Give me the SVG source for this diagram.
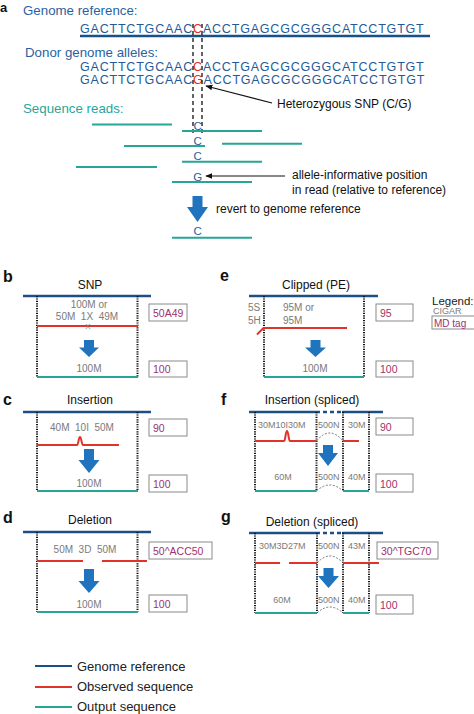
<svg xmlns="http://www.w3.org/2000/svg" width="474" height="714" viewBox="0 0 474 714">
<defs>
<style>
text{font-family:"Liberation Sans",Arial,sans-serif}
.pl{font-size:16px;font-weight:bold;fill:#111}
.ta{font-size:13.3px;fill:#2a62a0}
.tt{font-size:13.3px;fill:#2aa59a}
.seq{font-size:12.5px;fill:#1f5a99;letter-spacing:0.8px}
.red{fill:#dc3228}
.col{font-size:11.5px;fill:#2a5f9c;text-anchor:middle}
.note{font-size:12px;fill:#111}
.ttl{font-size:12px;fill:#111;text-anchor:middle}
.g{font-size:10px;fill:#7a7a7a}
.gs{font-size:9px;fill:#7a7a7a}
.gm{text-anchor:middle}
.md{font-size:10.5px;fill:#a0306e}
.box{fill:#fff;stroke:#8a8a8a;stroke-width:1}
.ref{stroke:#1c4f84;stroke-width:2.6;fill:none}
.refd{stroke:#1c4f84;stroke-width:2.6;stroke-dasharray:4 3;fill:none}
.obs{stroke:#e2332a;stroke-width:2;fill:none}
.out{stroke:#27a596;stroke-width:2;fill:none}
.dot{stroke:#111;stroke-width:2;stroke-dasharray:1.2 1.2;fill:none}
.dash{stroke:#111;stroke-width:1.3;stroke-dasharray:4 3;fill:none}
.arc{stroke:#555;stroke-width:0.8;stroke-dasharray:2 1.6;fill:none}
.barrow{fill:#1f74bd}
.leg{font-size:13px;fill:#222}
.conn{stroke:#111;stroke-width:1.2;fill:none}
</style>
<marker id="ah" viewBox="0 0 10 10" refX="9" refY="5" markerWidth="7" markerHeight="7" orient="auto-start-reverse" markerUnits="userSpaceOnUse">
<path d="M0,1 L10,5 L0,9 Z" fill="#111"/>
</marker>
</defs>
<rect width="474" height="714" fill="#fff"/>

<g id="panel-a">
<text class="pl" x="0" y="12" style="font-size:13px">a</text>
<text class="ta" x="23" y="14.5">Genome reference:</text>
<text class="seq" x="80" y="33">GACTTCTGCAAC<tspan class="red">C</tspan>ACCTGAGCGCGGGCATCCTGTGT</text>
<line class="ref" x1="80" y1="36" x2="430" y2="36"/>
<text class="ta" x="25" y="56.5">Donor genome alleles:</text>
<text class="seq" x="80" y="71">GACTTCTGCAAC<tspan class="red">C</tspan>ACCTGAGCGCGGGCATCCTGTGT</text>
<text class="seq" x="80" y="84">GACTTCTGCAAC<tspan class="red">G</tspan>ACCTGAGCGCGGGCATCCTGTGT</text>
<text class="tt" x="23" y="112.5">Sequence reads:</text>
<line class="dash" x1="193" y1="24" x2="193" y2="133"/>
<line class="dash" x1="202" y1="24" x2="202" y2="133"/>
<line class="out" x1="92" y1="124.5" x2="172" y2="124.5"/>
<line class="out" x1="182" y1="131" x2="262" y2="131"/>
<line class="out" x1="124" y1="146" x2="205" y2="146"/>
<line class="out" x1="222" y1="143.7" x2="302" y2="143.7"/>
<line class="out" x1="182" y1="161.7" x2="262" y2="161.7"/>
<line class="out" x1="76" y1="167" x2="157" y2="167"/>
<line class="out" x1="172" y1="182" x2="252" y2="182"/>
<text class="col" x="197.7" y="130">C</text>
<text class="col" x="197.7" y="145">C</text>
<text class="col" x="197.7" y="160">C</text>
<text class="col red" x="197.7" y="181">G</text>
<text class="note" x="277" y="107.5">Heterozygous SNP (C/G)</text>
<text class="note" x="292" y="178.6">allele-informative position</text>
<text class="note" x="292" y="193.5">in read (relative to reference)</text>
<path class="barrow" d="M192.5,196 H202.5 V207 H208 L197.5,222 L187,207 H192.5 Z"/>
<text class="note" x="216" y="213">revert to genome reference</text>
<text class="col" x="197.7" y="235">C</text>
<line class="out" x1="172" y1="237.7" x2="252" y2="237.7"/>
</g>

<g id="connectors">
<line class="conn" x1="272" y1="103" x2="206" y2="86" marker-end="url(#ah)"/>
<line class="conn" x1="285" y1="176" x2="206" y2="176" marker-end="url(#ah)"/>
</g>

<g id="panel-b">
<text class="pl" x="3" y="282">b</text>
<text class="ttl" x="90" y="289">SNP</text>
<line class="ref" x1="23" y1="296" x2="151" y2="296"/>
<line class="dot" x1="37" y1="296" x2="37" y2="377"/>
<line class="dot" x1="137.5" y1="296" x2="137.5" y2="377"/>
<text class="g gm" x="89" y="307.5">100M or</text>
<text class="g gm" x="87" y="320" xml:space="preserve">50M  1X  49M</text>
<line class="obs" x1="37" y1="326" x2="138" y2="326"/>
<text class="g gm" x="88" y="329" style="font-size:8px">X</text>
<path class="barrow" d="M84,340 H94 V347.5 H99 L89,357 L79,347.5 H84 Z"/>
<text class="g gm" x="89" y="372">100M</text>
<line class="out" x1="37" y1="377" x2="138" y2="377"/>
<rect class="box" x="149" y="304" width="38" height="17"/>
<text class="md" x="153" y="317">50A49</text>
<rect class="box" x="149" y="361" width="38" height="16"/>
<text class="md" x="153" y="372.5">100</text>
</g>

<g id="panel-c">
<text class="pl" x="3" y="405">c</text>
<text class="ttl" x="90" y="404">Insertion</text>
<line class="ref" x1="23" y1="412" x2="151" y2="412"/>
<line class="dot" x1="37" y1="412" x2="37" y2="491"/>
<line class="dot" x1="137.5" y1="412" x2="137.5" y2="491"/>
<text class="g gm" x="82" y="431" xml:space="preserve">40M  10I  50M</text>
<path class="obs" d="M37,445 H77 C78.5,445 78.5,437 80,437 C81.5,437 81.5,445 83,445 H119"/>
<rect class="box" x="149" y="419" width="38" height="17"/>
<text class="md" x="153" y="431.5">90</text>
<path class="barrow" d="M84,449 H94 V460 H99.5 L89,473 L78.5,460 H84 Z"/>
<text class="g gm" x="89" y="487">100M</text>
<line class="out" x1="37" y1="491" x2="138" y2="491"/>
<rect class="box" x="149" y="475" width="38" height="17"/>
<text class="md" x="153" y="487.5">100</text>
</g>

<g id="panel-d">
<text class="pl" x="3" y="523">d</text>
<text class="ttl" x="90" y="524">Deletion</text>
<line class="ref" x1="23" y1="532" x2="151" y2="532"/>
<line class="dot" x1="37" y1="532" x2="37" y2="612"/>
<line class="dot" x1="137.5" y1="532" x2="137.5" y2="612"/>
<text class="g gm" x="85" y="553" xml:space="preserve">50M  3D  50M</text>
<line class="obs" x1="37" y1="561" x2="83" y2="561"/>
<line class="obs" x1="102" y1="561" x2="147" y2="561"/>
<rect class="box" x="149" y="542" width="63" height="17"/>
<text class="md" x="153" y="554.5">50^ACC50</text>
<path class="barrow" d="M84,569 H94 V581 H99.5 L89,593 L78.5,581 H84 Z"/>
<text class="g gm" x="89" y="607.5">100M</text>
<line class="out" x1="37" y1="612" x2="138" y2="612"/>
<rect class="box" x="149" y="595" width="38" height="17"/>
<text class="md" x="153" y="607.5">100</text>
</g>

<g id="panel-e">
<text class="pl" x="220" y="281">e</text>
<text class="ttl" x="316" y="289">Clipped (PE)</text>
<line class="ref" x1="249" y1="296" x2="378" y2="296"/>
<line class="dot" x1="264" y1="296" x2="264" y2="377"/>
<line class="dot" x1="364" y1="296" x2="364" y2="377"/>
<text class="g" x="248" y="311">5S</text>
<text class="g" x="248" y="323.5">5H</text>
<text class="g" x="283" y="311">95M or</text>
<text class="g" x="283" y="323.5">95M</text>
<line class="obs" x1="263" y1="328" x2="347" y2="328"/>
<line class="obs" x1="257" y1="334.5" x2="263.5" y2="328"/>
<path class="barrow" d="M310.5,340 H320.5 V347.5 H326 L315.5,357 L305,347.5 H310.5 Z"/>
<text class="g gm" x="315" y="372">100M</text>
<line class="out" x1="264" y1="377" x2="364" y2="377"/>
<rect class="box" x="376" y="304" width="37" height="17"/>
<text class="md" x="380" y="317">95</text>
<rect class="box" x="376" y="361" width="37" height="16"/>
<text class="md" x="380" y="372.5">100</text>
</g>

<g id="legend-top">
<text x="432" y="304.5" style="font-size:11.5px;fill:#222">Legend:</text>
<text x="433" y="314" style="font-size:9px;fill:#7a7a7a">CIGAR</text>
<rect class="box" x="432" y="316" width="46" height="13"/>
<text class="md" x="434" y="326.5" style="font-size:10px">MD tag</text>
</g>

<g id="panel-f">
<text class="pl" x="221" y="405">f</text>
<text class="ttl" x="312" y="404">Insertion (spliced)</text>
<line class="ref" x1="249" y1="412" x2="316" y2="412"/>
<line class="refd" x1="316" y1="412" x2="342" y2="412"/>
<line class="ref" x1="342" y1="412" x2="383" y2="412"/>
<line class="dot" x1="255" y1="412" x2="255" y2="491"/>
<line class="dot" x1="316.5" y1="412" x2="316.5" y2="491"/>
<line class="dot" x1="343" y1="412" x2="343" y2="491"/>
<line class="dot" x1="369" y1="412" x2="369" y2="491"/>
<text class="gs" x="258" y="428">30M10I30M</text>
<text class="gs" x="318" y="428">500N</text>
<text class="gs" x="348" y="428">30M</text>
<path class="obs" d="M255,441 H284 C285.5,441 285.5,431 287,431 C288.5,431 288.5,441 290,441 H316.5"/>
<path class="arc" d="M316.5,441 Q329.7,425 343,441"/>
<line class="obs" x1="343" y1="441" x2="359" y2="441"/>
<rect class="box" x="376" y="418" width="37" height="17"/>
<text class="md" x="380" y="431">90</text>
<path class="barrow" d="M323,445 H333 V453 H338 L328,466 L318,453 H323 Z"/>
<text class="gs gm" x="283" y="480">60M</text>
<text class="gs" x="318" y="480">500N</text>
<text class="gs" x="348" y="480">40M</text>
<line class="out" x1="255" y1="491" x2="316.5" y2="491"/>
<path class="arc" d="M316.5,491 Q329.7,479 343,491"/>
<line class="out" x1="343" y1="491" x2="369" y2="491"/>
<rect class="box" x="376" y="474" width="37" height="18"/>
<text class="md" x="380" y="487.5">100</text>
</g>

<g id="panel-g">
<text class="pl" x="221" y="522">g</text>
<text class="ttl" x="312" y="526">Deletion (spliced)</text>
<line class="ref" x1="249" y1="533" x2="316" y2="533"/>
<line class="refd" x1="316" y1="533" x2="342" y2="533"/>
<line class="ref" x1="342" y1="533" x2="383" y2="533"/>
<line class="dot" x1="255" y1="533" x2="255" y2="613"/>
<line class="dot" x1="317" y1="533" x2="317" y2="613"/>
<line class="dot" x1="343" y1="533" x2="343" y2="613"/>
<line class="dot" x1="369" y1="533" x2="369" y2="613"/>
<text class="gs" x="259" y="548.5">30M3D27M</text>
<text class="gs" x="318" y="548.5">500N</text>
<text class="gs" x="348" y="548.5">43M</text>
<line class="obs" x1="255" y1="563" x2="280" y2="563"/>
<line class="obs" x1="289" y1="563" x2="317" y2="563"/>
<path class="arc" d="M317,563 Q330,549 343,563"/>
<line class="obs" x1="343" y1="563" x2="379" y2="563"/>
<rect class="box" x="377" y="542" width="61" height="17"/>
<text class="md" x="381" y="555">30^TGC70</text>
<path class="barrow" d="M323.5,568 H333.5 V576 H339 L328.5,588 L318,576 H323.5 Z"/>
<text class="gs gm" x="282" y="603">60M</text>
<text class="gs" x="318" y="603">500N</text>
<text class="gs" x="348" y="603">40M</text>
<line class="out" x1="255" y1="613" x2="317" y2="613"/>
<path class="arc" d="M317,613 Q330,601 343,613"/>
<line class="out" x1="343" y1="613" x2="369" y2="613"/>
<rect class="box" x="376" y="595" width="37" height="19"/>
<text class="md" x="380" y="608.5">100</text>
</g>

<g id="legend-bottom">
<line class="ref" x1="35" y1="666" x2="72" y2="666" style="stroke-width:2.2"/>
<text class="leg" x="77" y="671">Genome reference</text>
<line class="obs" x1="35" y1="687" x2="72" y2="687"/>
<text class="leg" x="77" y="690.5">Observed sequence</text>
<line class="out" x1="35" y1="707" x2="72" y2="707"/>
<text class="leg" x="77" y="710.5">Output sequence</text>
</g>
</svg>
